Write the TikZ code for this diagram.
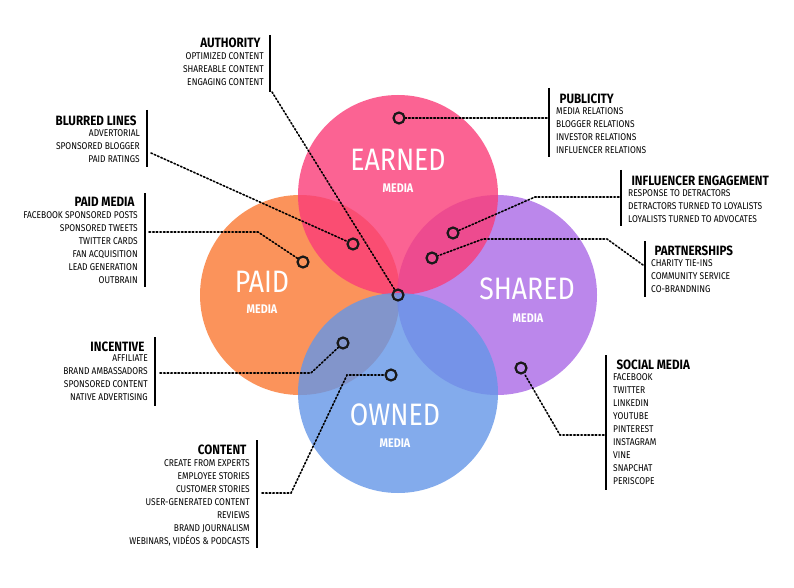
\documentclass[tikz,border=0pt]{standalone}
\usepackage{fontspec}
\setmainfont{Fira Sans}[FakeStretch=0.86]
\begin{document}
\begin{tikzpicture}[x=1pt,y=-1pt,
  ttl/.style={font=\fontsize{13.5}{13.5}\selectfont\bfseries},
  blk/.style={inner sep=0pt,font=\fontsize{9.8}{13}\selectfont},
  bar/.style={line width=2pt},
  con/.style={dotted,line width=1.6pt,line cap=round},
  spot/.style={circle,draw=black!90,line width=2.2pt,minimum size=11pt,inner sep=0pt},
  big/.style={text=white,font=\fontsize{31}{31}\selectfont},
  sub/.style={text=white,font=\fontsize{12.5}{12.5}\selectfont\bfseries}]
\useasboundingbox (0,0) rectangle (794,588);
\fill[fill=white] (0,0) rectangle (794,588);
\begin{scope}[fill opacity=0.8]
\fill[color={rgb,255:red,250;green,120;blue,50}] (300,295) circle (100);
\fill[color={rgb,255:red,170;green,105;blue,230}] (497,295) circle (100);
\fill[color={rgb,255:red,250;green,60;blue,120}] (398,195) circle (100);
\fill[color={rgb,255:red,100;green,150;blue,232}] (398,393) circle (100);
\end{scope}
\node[big] (te) at (398,160) {EARNED};
\node[sub] (me) at (398,188) {MEDIA};
\node[big] (tp) at (262,282) {PAID};
\node[sub] (mp) at (262,309) {MEDIA};
\node[big] (ts) at (527,289) {SHARED};
\node[sub] (ms) at (528,318) {MEDIA};
\node[big] (to) at (395,415) {OWNED};
\node[sub] (mo) at (395,443) {MEDIA};
% dots
\node[spot] (d1) at (399,118) {};
\node[spot] (d2) at (353,244) {};
\node[spot] (d3) at (303,262) {};
\node[spot] (d4) at (398,295) {};
\node[spot] (d5) at (453,233) {};
\node[spot] (d6) at (432,258) {};
\node[spot] (d7) at (343,343) {};
\node[spot] (d8) at (391,375) {};
\node[spot] (d9) at (521,368) {};
% text blocks
\node[ttl,anchor=north east] (a1) at (264,34) {AUTHORITY};
\node[blk,anchor=north east,align=right] (a2) at (264,52) {OPTIMIZED CONTENT\\SHAREABLE CONTENT\\ENGAGING CONTENT};
\draw[bar] (270,35) -- (270,92);
\node[ttl,anchor=north east] (b1) at (140,112) {BLURRED LINES};
\node[blk,anchor=north east,align=right] (b2) at (140,129) {ADVERTORIAL\\SPONSORED BLOGGER\\PAID RATINGS};
\draw[bar] (147,110) -- (147,167);
\node[ttl,anchor=north east] (c1) at (138,194) {PAID MEDIA};
\node[blk,anchor=north east,align=right] (c2) at (138,211) {FACEBOOK SPONSORED POSTS\\SPONSORED TWEETS\\TWITTER CARDS\\FAN ACQUISITION\\LEAD GENERATION\\OUTBRAIN};
\draw[bar] (145,193) -- (145,287);
\node[ttl,anchor=north east] (i1) at (148,338) {INCENTIVE};
\node[blk,anchor=north east,align=right] (i2) at (148,355) {AFFILIATE\\BRAND AMBASSADORS\\SPONSORED CONTENT\\NATIVE ADVERTISING};
\draw[bar] (155,337) -- (155,406);
\node[ttl,anchor=north east] (k1) at (250,441) {CONTENT};
\node[blk,anchor=north east,align=right] (k2) at (250,459) {CREATE FROM EXPERTS\\EMPLOYEE STORIES\\CUSTOMER STORIES\\USER-GENERATED CONTENT\\REVIEWS\\BRAND JOURNALISM\\WEBINARS, VIDÉOS \& PODCASTS};
\draw[bar] (257,440) -- (257,548);
\node[ttl,anchor=north west] (p1) at (556,90) {PUBLICITY};
\node[blk,anchor=north west,align=left] (p2) at (556,107) {MEDIA RELATIONS\\BLOGGER RELATIONS\\INVESTOR RELATIONS\\INFLUENCER RELATIONS};
\draw[bar] (549,88) -- (549,157);
\node[ttl,anchor=north west] (e1) at (628,172) {INFLUENCER ENGAGEMENT};
\node[blk,anchor=north west,align=left] (e2) at (628,189) {RESPONSE TO DETRACTORS\\DETRACTORS TURNED TO LOYALISTS\\LOYALISTS TURNED TO ADVOCATES};
\draw[bar] (621,170) -- (621,226);
\node[ttl,anchor=north west] (s1) at (651,242) {PARTNERSHIPS};
\node[blk,anchor=north west,align=left] (s2) at (651,259) {CHARITY TIE-INS\\COMMUNITY SERVICE\\CO-BRANDNING};
\draw[bar] (645,241) -- (645,297);
\node[ttl,anchor=north west] (m1) at (613,356) {SOCIAL MEDIA};
\node[blk,anchor=north west,align=left] (m2) at (613,373) {FACEBOOK\\TWITTER\\LINKEDIN\\YOUTUBE\\PINTEREST\\INSTAGRAM\\VINE\\SNAPCHAT\\PERISCOPE};
\draw[bar] (606,355) -- (606,490);
% connectors
\coordinate (ca) at (272,92);
\coordinate (cb) at (151,153);
\coordinate (cc) at (149,232);
\coordinate (ci) at (160,373);
\coordinate (ck) at (262,493);
\coordinate (cp) at (547,118);
\coordinate (ce) at (619,197);
\coordinate (cs) at (643,265);
\coordinate (cm) at (604,435);
\draw[con] (ca) -- (d4);
\draw[con] (cb) -- (d2);
\draw[con] (cc) -- (258,232) -- (d3);
\draw[con] (ci) -- (311,373) -- (d7);
\draw[con] (ck) -- (291,493) -- (347,375) -- (d8);
\draw[con] (cp) -- (d1);
\draw[con] (ce) -- (535,197) -- (d5);
\draw[con] (cs) -- (607,239) -- (483,239) -- (d6);
\draw[con] (cm) -- (560,435) -- (d9);
\end{tikzpicture}
\end{document}
